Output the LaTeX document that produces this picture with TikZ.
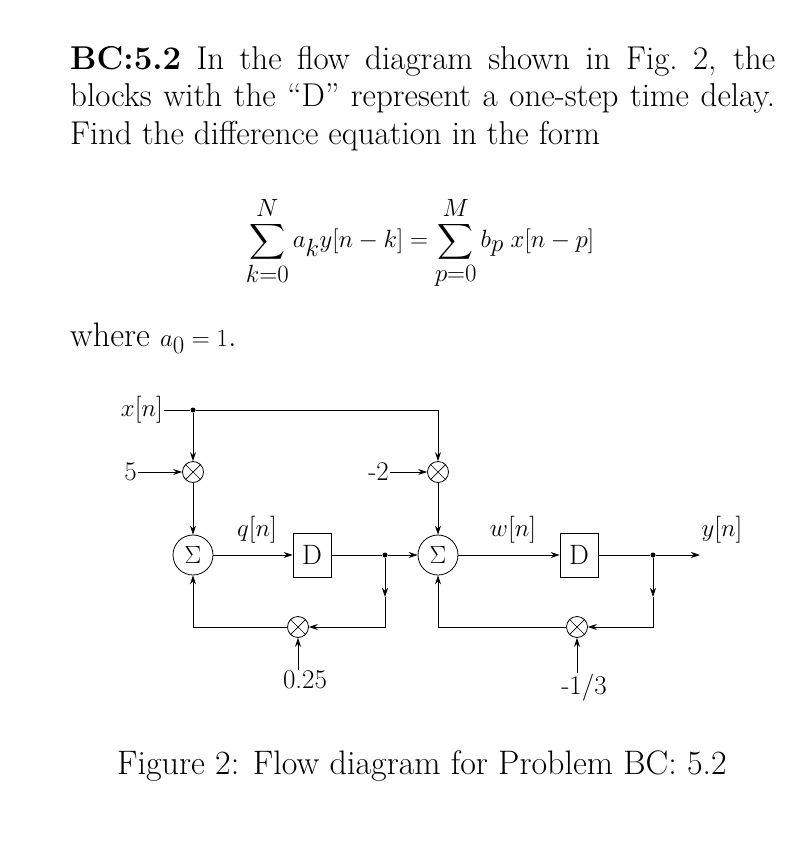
\documentclass[tikz,border=0pt]{standalone}
\usepackage{amsmath}
\usetikzlibrary{arrows.meta}
\begin{document}
\begin{tikzpicture}[x=1pt,y=-1pt,
  wire/.style={line width=0.8pt},
  arr/.style={wire,-{Stealth[length=9pt,width=6pt]}},
  mult/.style={draw,circle,line width=0.8pt,minimum size=21pt,inner sep=0pt,
    path picture={\draw[line width=0.7pt] (path picture bounding box.north west)--(path picture bounding box.south east)
      (path picture bounding box.north east)--(path picture bounding box.south west);}},
  summ/.style={draw,circle,line width=0.8pt,minimum size=40pt,inner sep=0pt,font=\fontsize{24}{24}\selectfont},
  delay/.style={draw,line width=0.8pt,minimum width=38pt,minimum height=44pt,inner sep=0pt,font=\fontsize{28}{28}\selectfont},
  lab/.style={font=\fontsize{27}{27}\selectfont,inner sep=1pt},
  dot/.style={circle,fill,inner sep=0pt,minimum size=5pt}]
\useasboundingbox (0,0) rectangle (799,842);
\node[anchor=north west,text width=705pt,align=justify,inner sep=0pt,font=\fontsize{33}{37.5}\selectfont] (txt) at (70,46)
 {\textbf{BC:5.2} In the flow diagram shown in Fig.~2, the blocks with the ``D'' represent a one-step time delay. Find the difference equation in the form};
\node[font=\fontsize{34}{36}\selectfont] (eq) at (420,243) {$\displaystyle\sum_{k=0}^{N} a_k y[n-k] = \sum_{p=0}^{M} b_p\; x[n-p]$};
\node[anchor=west,inner sep=0pt,font=\fontsize{34}{36}\selectfont] (wh) at (70,338) {where $a_0=1$.};
\node[font=\fontsize{34}{36}\selectfont] (cap) at (422,766) {Figure 2: Flow diagram for Problem BC: 5.2};
% diagram
\node[lab,anchor=east] (x) at (164,410) {$x$[$n$]};
\node[dot] (j0) at (193,410) {};
\coordinate (c0) at (438,410);
\node[mult] (m1) at (193,472) {};
\node[mult] (m2) at (438,472) {};
\node[lab,anchor=east] (l5) at (138,472) {5};
\node[lab,anchor=east] (lm2) at (390,472) {-2};
\node[summ] (s1) at (193,555) {$\Sigma$};
\node[summ] (s2) at (438,555) {$\Sigma$};
\node[delay] (d1) at (312,555) {D};
\node[delay] (d2) at (579,555) {D};
\node[dot] (j1) at (385,555) {};
\node[dot] (j2) at (653,555) {};
\coordinate (yend) at (700,555);
\node[lab] (y) at (722,530) {$y$[$n$]};
\node[lab] (q) at (257,530) {$q$[$n$]};
\node[lab] (w) at (513,530) {$w$[$n$]};
\node[mult] (m3) at (298,627) {};
\node[mult] (m4) at (577,627) {};
\node[lab] (c25) at (305,680) {0.25};
\node[lab] (c13) at (584,688) {-1/3};
\coordinate (a1) at (385,597);
\coordinate (b1) at (385,627);
\coordinate (a2) at (653,597);
\coordinate (b2) at (653,627);
\coordinate (f1) at (193,627);
\coordinate (f2) at (438,627);
\draw[wire] (x) -- (j0) -- (c0);
\draw[arr] (c0) -- (m2);
\draw[arr] (j0) -- (m1);
\draw[arr] (l5) -- (m1);
\draw[arr] (lm2) -- (m2);
\draw[arr] (m1) -- (s1);
\draw[arr] (m2) -- (s2);
\draw[arr] (s1) -- (d1);
\draw[wire] (d1) -- (j1);
\draw[arr] (j1) -- (s2);
\draw[arr] (s2) -- (d2);
\draw[wire] (d2) -- (j2);
\draw[arr] (j2) -- (yend);
\draw[arr] (j1) -- (a1);
\draw[arr] (a1) -- (b1) -- (m3);
\draw[arr] (j2) -- (a2);
\draw[arr] (a2) -- (b2) -- (m4);
\draw[arr] (m3) -- (f1) -- (s1);
\draw[arr] (m4) -- (f2) -- (s2);
\draw[arr] (c25.north -| m3) -- (m3);
\draw[arr] (c13.north -| m4) -- (m4);
\end{tikzpicture}
\end{document}
